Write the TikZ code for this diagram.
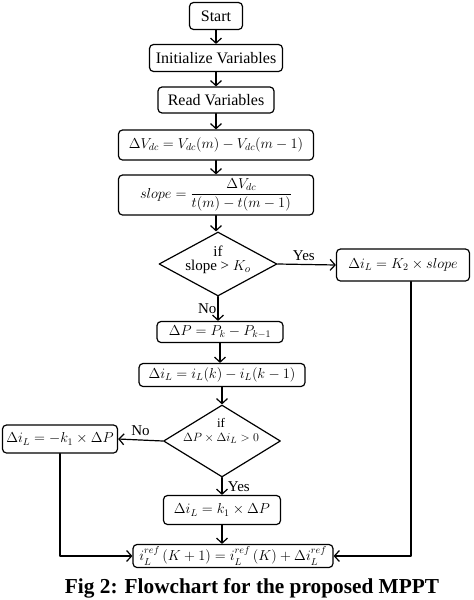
\documentclass[tikz,border=0pt]{standalone}
\usepackage{amsmath}
\usepackage{fontspec}
\setmainfont{Liberation Serif}
\usetikzlibrary{arrows.meta,shapes.geometric}

\begin{document}
\begin{tikzpicture}[x=1pt, y=-1pt, line cap=round, line join=round, >={Straight Barb[length=5pt,width=11pt]}]
\tikzset{blk/.style={draw, line width=1.2pt, rounded corners=4pt, inner sep=1pt, font=\fontsize{14.5}{17}\selectfont},
  txtblk/.style={blk, font=\fontsize{16}{18}\selectfont},
  cond/.style={draw, diamond, line width=1.2pt, inner sep=0pt},
  condtxt/.style={align=center, inner sep=0pt, font=\fontsize{15}{14}\selectfont},
  flow/.style={->, line width=1.2pt},
  lbl/.style={font=\fontsize{15}{17}\selectfont}}
\useasboundingbox (0,0) rectangle (474,600);

% blocks (px)
\node[txtblk, minimum width=53pt, minimum height=27pt]  (start) at (216,16)  {Start};
\node[txtblk, minimum width=133pt, minimum height=27pt] (init)  at (216,58)  {Initialize Variables};
\node[txtblk, minimum width=116pt, minimum height=26pt] (read)  at (216,100) {Read Variables};
\node[blk, minimum width=195pt, minimum height=30pt] (dvdc)  at (216,145) {$\Delta V_{dc}=V_{dc}(m)-V_{dc}(m-1)$};
\node[blk, minimum width=195pt, minimum height=40pt] (slope) at (216,195) {$slope=\dfrac{\Delta V_{dc}}{t(m)-t(m-1)}$};
\node[cond, minimum width=118pt, minimum height=64pt] (ifa) at (218,264) {};
\node[condtxt] (ifatxt) at (218,260) {if\\slope > $K_o$};
\node[blk, minimum width=133pt, minimum height=32pt] (ka)    at (403,265) {$\Delta i_L=K_2\times slope$};
\node[blk, minimum width=126pt, minimum height=21pt] (dp)    at (220,332) {$\Delta P=P_k-P_{k-1}$};
\node[blk, minimum width=166pt, minimum height=23pt] (dil)   at (222,375) {$\Delta i_L=i_L(k)-i_L(k-1)$};
\node[cond, minimum width=117pt, minimum height=72pt] (ifb) at (222,441) {};
\node[condtxt, font=\fontsize{13}{14}\selectfont] (ifbtxt) at (221,431) {if\\$\Delta P\times\Delta i_L>0$};
\node[blk, minimum width=115pt, minimum height=28pt] (kneg)  at (60,439)  {$\Delta i_L=-k_1\times\Delta P$};
\node[blk, minimum width=117pt, minimum height=29pt] (kpos)  at (222,510) {$\Delta i_L=k_1\times\Delta P$};
\node[blk, minimum width=200pt, minimum height=23pt] (iref)  at (233,556) {$i_L^{ref}\,(K+1)=i_L^{ref}\,(K)+\Delta i_L^{ref}$};

% connectors
\draw[flow] (start) -- (init);
\draw[flow] (init) -- (read);
\draw[flow] (read) -- (dvdc);
\draw[flow] (dvdc) -- (slope);
\draw[flow] (slope) -- (slope.south |- ifa.north);
\draw[flow] (ifa.east) -- (ka.west) node[lbl, pos=0.45, above] {Yes};
\draw[flow] (ifa.south) -- (ifa.south |- dp.north) node[lbl, pos=0.5, left, inner sep=1pt] {No};
\draw[flow] (dp.south) -- (dp.south |- dil.north);
\draw[flow] (dil.south -| ifb.north) -- (ifb.north);
\draw[flow] (ifb.west) -- (kneg.east) node[lbl, pos=0.5, above] {No};
\draw[flow] (ifb.south) -- (kpos.north) node[lbl, pos=0.5, right, xshift=2pt] {Yes};
\draw[flow] (kpos.south) -- (kpos.south |- iref.north);
\draw[flow] (kneg.south) |- (iref.west);
\draw[flow] ([xshift=8pt]ka.south) |- (iref.east);

% caption
\node[font=\fontsize{21.3}{23}\selectfont\bfseries] (cap) at (252,588) {Fig 2: Flowchart for the proposed MPPT};
\end{tikzpicture}
\end{document}
